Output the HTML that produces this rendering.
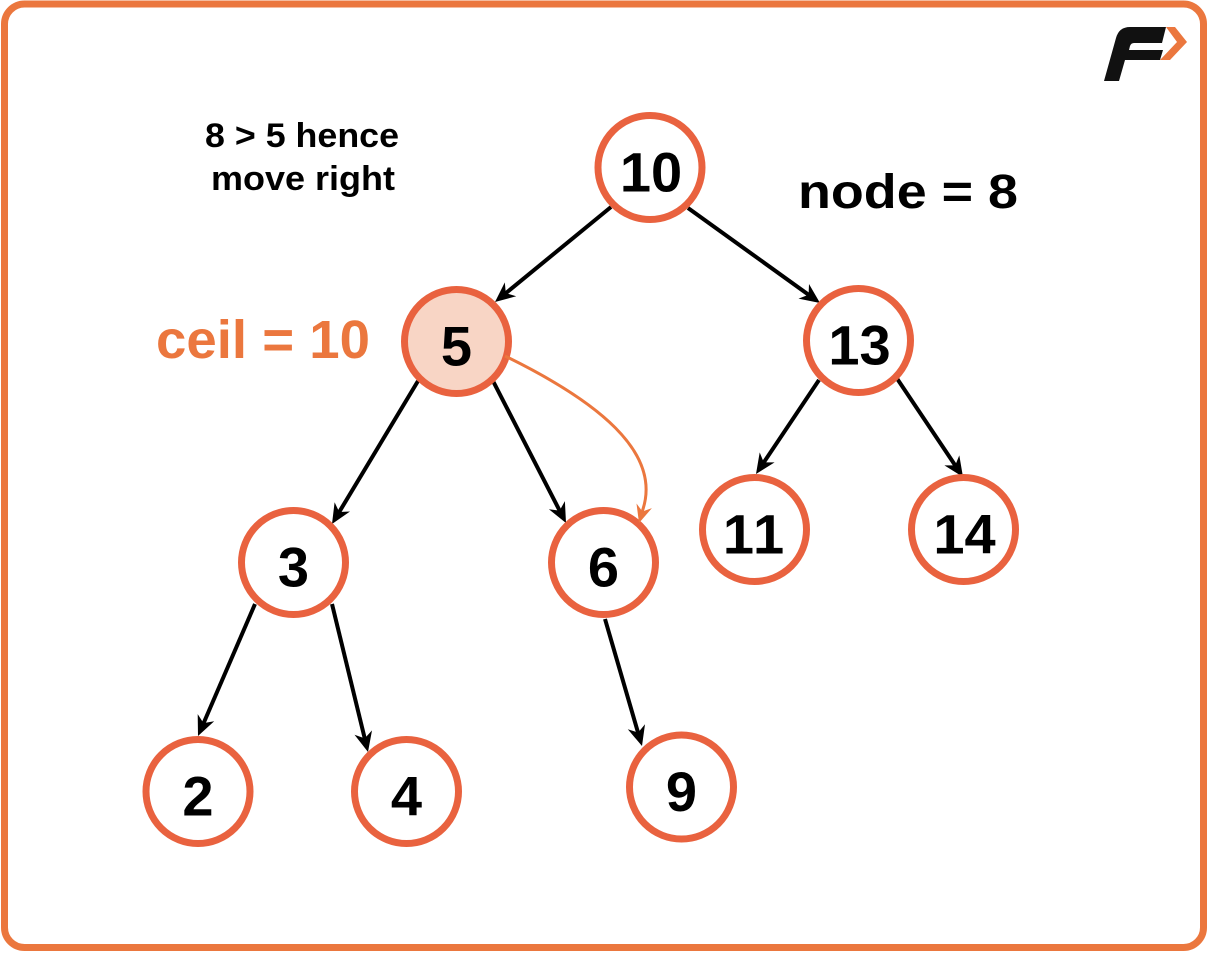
<!DOCTYPE html>
<html>
<head>
<meta charset="utf-8">
<style>
  html, body { margin: 0; padding: 0; background: #ffffff; }
  body { width: 1208px; height: 954px; overflow: hidden; }
  svg { display: block; }
  text { font-family: "Liberation Sans", "DejaVu Sans", sans-serif; font-weight: bold; }
</style>
</head>
<body>
<svg width="1208" height="954" viewBox="0 0 1208 954" xmlns="http://www.w3.org/2000/svg">
  <!-- outer border -->
  <rect x="4.5" y="4" width="1199" height="943.5" rx="20" ry="20" fill="#fff" stroke="#EB773E" stroke-width="7"/>

  <!-- logo -->
  <path d="M1104,81 L1116,38 Q1119,27 1130,27 L1166,27 L1162,43 L1134,43 Q1131,43 1130,46 L1129,50 L1163,50 L1160,60 L1125,60 L1119,81 Z" fill="#111"/>
  <path d="M1166,27 L1175,27 L1187,42 L1170,60 L1160,60 L1177,42 Z" fill="#EB773E"/>

  <!-- edges -->
  <g stroke="#000" stroke-width="4" fill="none">
    <line x1="611" y1="207" x2="504.3" y2="294.4"/>
    <line x1="688" y1="208" x2="810.3" y2="296.0"/>
    <line x1="418" y1="381" x2="338.2" y2="513.7"/>
    <line x1="493" y1="381" x2="560.5" y2="512.3"/>
    <line x1="255" y1="604" x2="202.8" y2="725.0"/>
    <line x1="332" y1="604" x2="365.2" y2="740.3"/>
    <line x1="605" y1="619" x2="638.6" y2="734.5"/>
    <line x1="819" y1="380" x2="762.7" y2="464.0"/>
    <line x1="896" y1="377" x2="956.3" y2="467.0"/>
  </g>
  <g fill="#000">
    <polygon points="495,302 504.8,282.4 505.8,293.1 516.2,296.3"/>
    <polygon points="820,303 798.5,298.6 808.6,294.8 809.0,284.0"/>
    <polygon points="332,524 334.6,502.2 339.2,512.0 350.0,511.5"/>
    <polygon points="566,523 548.9,509.3 559.6,510.6 564.9,501.1"/>
    <polygon points="198,736 197.7,714.1 203.5,723.1 214.2,721.2"/>
    <polygon points="368,752 354.5,734.7 364.7,738.4 372.0,730.4"/>
    <polygon points="642,746 627.8,729.3 638.1,732.6 645.0,724.3"/>
    <polygon points="756,474 759.7,452.4 763.8,462.4 774.6,462.4"/>
    <polygon points="963,477 944.4,465.4 955.2,465.4 959.3,455.4"/>
  </g>

  <!-- nodes -->
  <g stroke="#E9623F" stroke-width="7" fill="#fff">
    <circle cx="650" cy="167.5" r="52"/>
    <circle cx="456.5" cy="341.5" r="52" fill="#F8D5C5"/>
    <circle cx="858.5" cy="340.5" r="52"/>
    <circle cx="293.5" cy="562.5" r="52"/>
    <circle cx="603.5" cy="562.5" r="52"/>
    <circle cx="754.5" cy="529.5" r="52"/>
    <circle cx="963.5" cy="529.5" r="52"/>
    <circle cx="198" cy="791.5" r="52"/>
    <circle cx="406.5" cy="791.5" r="52"/>
    <circle cx="681.5" cy="787" r="52"/>
  </g>

  <!-- orange curved arrow -->
  <path d="M505,356 C595,400 664,452 642,512" stroke="#EB773E" stroke-width="3" fill="none"/>
  <polygon points="639,523 636.5,503.5 642.4,511.5 651.9,508.1" fill="#EB773E"/>

  <!-- node labels -->
  <g font-size="56" fill="#000" text-anchor="middle">
    <text x="651" y="191.5">10</text>
    <text x="456.5" y="365.5">5</text>
    <text x="859.5" y="364.5">13</text>
    <text x="293.5" y="586.5">3</text>
    <text x="603.5" y="586.5">6</text>
    <text x="754.5" y="553.5" letter-spacing="2">11</text>
    <text x="964.5" y="553.5">14</text>
    <text x="198" y="815.5">2</text>
    <text x="406.5" y="815.5">4</text>
    <text x="681.5" y="811">9</text>
  </g>

  <!-- annotations -->
  <text x="798" y="208" font-size="48" fill="#000" textLength="220" lengthAdjust="spacingAndGlyphs">node = 8</text>
  <text x="156" y="358" font-size="54" fill="#EB773E" textLength="214" lengthAdjust="spacingAndGlyphs">ceil = 10</text>
  <text x="205" y="147" font-size="34" fill="#000" textLength="194" lengthAdjust="spacingAndGlyphs">8 &gt; 5 hence</text>
  <text x="211" y="190" font-size="34" fill="#000" textLength="184" lengthAdjust="spacingAndGlyphs">move right</text>
</svg>
</body>
</html>
